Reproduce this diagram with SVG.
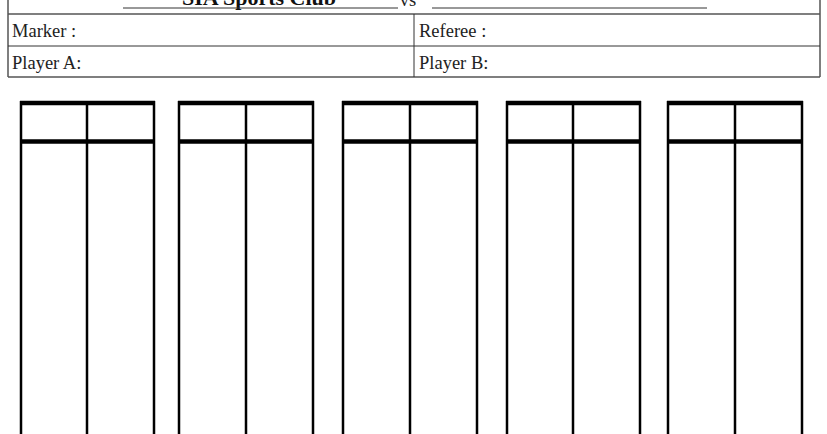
<svg xmlns="http://www.w3.org/2000/svg" width="827" height="434" viewBox="0 0 827 434">
<style>
.t{font-family:"Liberation Serif",serif;font-size:18.5px;fill:#222}
.g{stroke:#555;stroke-width:1.5;fill:none}
.v{stroke:#000;stroke-width:2.5}
.h{stroke:#000;stroke-width:4.5}
</style>
<rect width="827" height="434" fill="#fff"/>
<g id="header">
<text x="259" y="5" text-anchor="middle" font-family="Liberation Serif,serif" font-weight="bold" font-size="22" fill="#111">SIA Sports Club</text>
<text x="408" y="6" text-anchor="middle" class="t" font-size="20">vs</text>
<line x1="123" y1="8" x2="398" y2="8" stroke="#333" stroke-width="1"/>
<line x1="432" y1="8" x2="707" y2="8" stroke="#333" stroke-width="1"/>
</g>
<g id="table">
<line class="g" x1="8" y1="0" x2="8" y2="77"/>
<line class="g" x1="820" y1="0" x2="820" y2="77"/>
<line class="g" x1="8" y1="14" x2="820" y2="14"/>
<line class="g" x1="8" y1="77" x2="820" y2="77"/>
<line stroke="#333" stroke-width="1" x1="8" y1="46" x2="820" y2="46"/>
<line stroke="#333" stroke-width="1" x1="414" y1="14" x2="414" y2="77"/>
<text class="t" x="12" y="37">Marker :</text>
<text class="t" x="419" y="37">Referee :</text>
<text class="t" x="12" y="69">Player A:</text>
<text class="t" x="419" y="69">Player B:</text>
</g>
<g id="connectors">
<g id="block1"><line class="h" x1="20" y1="103" x2="155" y2="103"/><line class="h" x1="20" y1="141.5" x2="155" y2="141.5"/><line class="v" x1="21" y1="101" x2="21" y2="434"/><line class="v" x1="87" y1="101" x2="87" y2="434"/><line class="v" x1="154" y1="101" x2="154" y2="434"/></g>
<g id="block2"><line class="h" x1="178" y1="103" x2="314" y2="103"/><line class="h" x1="178" y1="141.5" x2="314" y2="141.5"/><line class="v" x1="179" y1="101" x2="179" y2="434"/><line class="v" x1="246" y1="101" x2="246" y2="434"/><line class="v" x1="313" y1="101" x2="313" y2="434"/></g>
<g id="block3"><line class="h" x1="342" y1="103" x2="478" y2="103"/><line class="h" x1="342" y1="141.5" x2="478" y2="141.5"/><line class="v" x1="343" y1="101" x2="343" y2="434"/><line class="v" x1="410" y1="101" x2="410" y2="434"/><line class="v" x1="477" y1="101" x2="477" y2="434"/></g>
<g id="block4"><line class="h" x1="506" y1="103" x2="641" y2="103"/><line class="h" x1="506" y1="141.5" x2="641" y2="141.5"/><line class="v" x1="507" y1="101" x2="507" y2="434"/><line class="v" x1="573" y1="101" x2="573" y2="434"/><line class="v" x1="640" y1="101" x2="640" y2="434"/></g>
<g id="block5"><line class="h" x1="667" y1="103" x2="803" y2="103"/><line class="h" x1="667" y1="141.5" x2="803" y2="141.5"/><line class="v" x1="668" y1="101" x2="668" y2="434"/><line class="v" x1="735" y1="101" x2="735" y2="434"/><line class="v" x1="802" y1="101" x2="802" y2="434"/></g>
</g>
</svg>
